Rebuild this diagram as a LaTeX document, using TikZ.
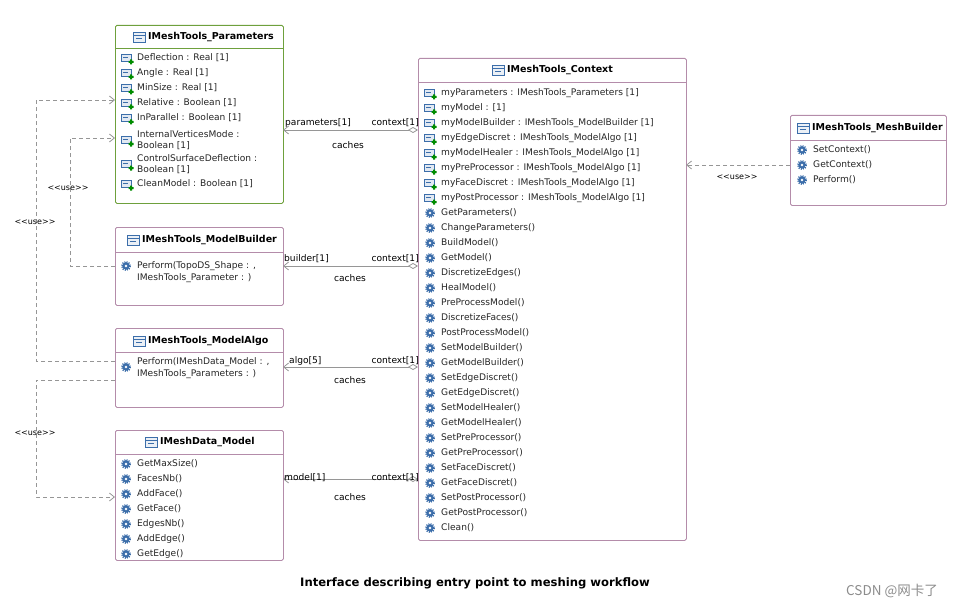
\documentclass[tikz,border=0pt]{standalone}
\usepackage{fontspec}
\setmainfont{DejaVu Sans}
\newfontfamily\cjk{Noto Sans CJK SC}
\usetikzlibrary{arrows.meta}
\definecolor{pur}{RGB}{180,140,170}
\definecolor{grn}{RGB}{110,160,60}
\definecolor{gb}{RGB}{60,110,170}
\definecolor{ln}{RGB}{150,150,150}
\newcommand\mygear[2]{\draw[gb,line width=1.6pt,dash pattern=on 1.1pt off 1.1pt] (#1,#2) circle (4.2);\fill[gb] (#1,#2) circle (3.6);\fill[white] (#1,#2) circle (1.3);}
\newcommand\myattr[2]{\draw[gb,fill=gb!15,line width=0.6pt] (#1-6,#2-4) rectangle (#1+4,#2+3);\draw[gb] (#1-4,#2-1)--(#1+1,#2-1);\fill[green!55!black] (#1+1.5,#2+3) rectangle (#1+6.5,#2+5) (#1+3,#2+1.5) rectangle (#1+5,#2+6.5);}
\newcommand\myhead[2]{\draw[gb,fill=gb!10,line width=0.6pt] (#1-6,#2-5) rectangle (#1+6,#2+5);\draw[gb] (#1-6,#2-2)--(#1+6,#2-2) (#1-3,#2+1)--(#1+3,#2+1);}
\begin{document}
\begin{tikzpicture}[x=1pt,y=-1pt,
  box/.style={draw=pur,line width=0.8pt,rounded corners=1.5pt,fill=white,anchor=north west,inner sep=0pt},
  ttl/.style={font=\bfseries\fontsize{9.5}{11}\selectfont,anchor=west,inner sep=0pt},
  itm/.style={font=\fontsize{9.1}{11.5}\selectfont,anchor=west,inner sep=0pt,align=left,text=black!85},
  lbl/.style={font=\fontsize{9.1}{11}\selectfont,inner sep=0pt},
  use/.style={font=\fontsize{8}{10}\selectfont,inner sep=0pt},
  assoc/.style={draw=ln,line width=0.8pt,{Diamond[open,length=10pt,width=6pt]}-{Straight Barb[length=5pt,width=8pt]}},
  dep/.style={draw=ln,line width=0.8pt,dash pattern=on 4pt off 3pt,-{Straight Barb[length=5pt,width=8pt]}}]
\useasboundingbox (0,0) rectangle (966,607);
% boxes
\node[box,draw=grn,minimum width=168pt,minimum height=178pt] (par) at (115,25) {};
\node[box,minimum width=168pt,minimum height=78pt] (mb) at (115,227) {};
\node[box,minimum width=168pt,minimum height=79pt] (ma) at (115,328) {};
\node[box,minimum width=168pt,minimum height=130pt] (md) at (115,430) {};
\node[box,minimum width=268pt,minimum height=482pt] (ctx) at (418,58) {};
\node[box,minimum width=156pt,minimum height=90pt] (msh) at (790,115) {};
\draw[grn,line width=0.8pt] (115,48)--(283,48);
\draw[pur,line width=0.8pt] (115,252)--(283,252) (115,352)--(283,352) (115,454)--(283,454) (418,82)--(686,82) (790,140)--(946,140);
% titles
\myhead{139}{37}\node[ttl] (tpar) at (148,37) {IMeshTools\_Parameters};
\myhead{133}{240}\node[ttl] (tmb) at (142,240) {IMeshTools\_ModelBuilder};
\myhead{139}{341}\node[ttl] (tma) at (148,341) {IMeshTools\_ModelAlgo};
\myhead{151}{442}\node[ttl] (tmd) at (160,442) {IMeshData\_Model};
\myhead{498}{70}\node[ttl] (tctx) at (507,70) {IMeshTools\_Context};
\myhead{803}{128}\node[ttl] (tmsh) at (812,128) {IMeshTools\_MeshBuilder};
% Parameters attributes
\foreach \y/\t in {58/Deflection : Real [1],73/Angle : Real [1],88/MinSize : Real [1],103/Relative : Boolean [1],118/InParallel : Boolean [1],184/CleanModel : Boolean [1]}
  {\myattr{127}{\y}\node[itm] at (137,\y) {\t};}
\myattr{127}{140}\node[itm] at (137,140) {InternalVerticesMode :\\Boolean [1]};
\myattr{127}{164}\node[itm] at (137,164) {ControlSurfaceDeflection :\\Boolean [1]};
% ModelBuilder / ModelAlgo
\mygear{126}{266}\node[itm] at (137,272) {Perform(TopoDS\_Shape : ,\\IMeshTools\_Parameter : )};
\mygear{126}{367}\node[itm] at (137,368) {Perform(IMeshData\_Model : ,\\IMeshTools\_Parameters : )};
% Model ops
\foreach \y/\t in {464/GetMaxSize(),479/FacesNb(),494/AddFace(),509/GetFace(),524/EdgesNb(),539/AddEdge(),554/GetEdge()}
  {\mygear{126}{\y}\node[itm] at (137,\y) {\t};}
% Context
\foreach \y/\t in {93/myParameters : IMeshTools\_Parameters [1],108/myModel :  [1],123/myModelBuilder : IMeshTools\_ModelBuilder [1],138/myEdgeDiscret : IMeshTools\_ModelAlgo [1],153/myModelHealer : IMeshTools\_ModelAlgo [1],168/myPreProcessor : IMeshTools\_ModelAlgo [1],183/myFaceDiscret : IMeshTools\_ModelAlgo [1],198/myPostProcessor : IMeshTools\_ModelAlgo [1]}
  {\myattr{430}{\y}\node[itm] at (441,\y) {\t};}
\foreach \y/\t in {213/GetParameters(),228/ChangeParameters(),243/BuildModel(),258/GetModel(),273/DiscretizeEdges(),288/HealModel(),303/PreProcessModel(),318/DiscretizeFaces(),333/PostProcessModel(),348/SetModelBuilder(),363/GetModelBuilder(),378/SetEdgeDiscret(),393/GetEdgeDiscret(),408/SetModelHealer(),423/GetModelHealer(),438/SetPreProcessor(),453/GetPreProcessor(),468/SetFaceDiscret(),483/GetFaceDiscret(),498/SetPostProcessor(),513/GetPostProcessor(),528/Clean()}
  {\mygear{430}{\y}\node[itm] at (441,\y) {\t};}
% MeshBuilder
\foreach \y/\t in {150/SetContext(),165/GetContext(),180/Perform()}
  {\mygear{802}{\y}\node[itm] at (813,\y) {\t};}
% associations
\coordinate (c1) at (418,130);\coordinate (p1) at (283,130);
\coordinate (c2) at (418,266);\coordinate (p2) at (283,266);
\coordinate (c3) at (418,367);\coordinate (p3) at (283,367);
\coordinate (c4) at (418,479);\coordinate (p4) at (283,479);
\draw[assoc] (c1)--(p1);\draw[assoc] (c2)--(p2);\draw[assoc] (c3)--(p3);\draw[assoc] (c4)--(p4);
\node[lbl,anchor=west] (r1) at (285,123) {parameters[1]};\node[lbl,anchor=east] (k1) at (419,123) {context[1]};\node[lbl] (s1) at (348,145) {caches};
\node[lbl,anchor=west] (r2) at (284,259) {builder[1]};\node[lbl,anchor=east] (k2) at (419,259) {context[1]};\node[lbl] (s2) at (350,278) {caches};
\node[lbl,anchor=west] (r3) at (289,361) {algo[5]};\node[lbl,anchor=east] (k3) at (419,361) {context[1]};\node[lbl] (s3) at (350,380) {caches};
\node[lbl,anchor=west] (r4) at (284,478) {model[1]};\node[lbl,anchor=east] (k4) at (419,478) {context[1]};\node[lbl] (s4) at (350,497) {caches};
% dependencies
\coordinate (a1) at (115,361);\coordinate (a1b) at (36,361);\coordinate (a1c) at (36,100);\coordinate (a1d) at (115,100);
\draw[dep] (a1)--(a1b)--(a1c)--(a1d);
\coordinate (b1) at (115,266);\coordinate (b1b) at (70,266);\coordinate (b1c) at (70,138);\coordinate (b1d) at (115,138);
\draw[dep] (b1)--(b1b)--(b1c)--(b1d);
\coordinate (d1) at (115,380);\coordinate (d1b) at (36,380);\coordinate (d1c) at (36,497);\coordinate (d1d) at (115,497);
\draw[dep] (d1)--(d1b)--(d1c)--(d1d);
\coordinate (e1) at (790,165);\coordinate (e1b) at (686,165);
\draw[dep] (e1)--(e1b);
\node[use] (u1) at (35,222) {<{}<use>{}>};
\node[use] (u2) at (68,188) {<{}<use>{}>};
\node[use] (u3) at (35,433) {<{}<use>{}>};
\node[use] (u4) at (737,177) {<{}<use>{}>};
% caption
\node[font=\bfseries\fontsize{11.6}{13}\selectfont,inner sep=0pt] (cap) at (475,583) {Interface describing entry point to meshing workflow};
\node[font=\cjk\fontsize{13.5}{15}\selectfont,text=black!45,inner sep=0pt] (wm) at (892,591) {CSDN @网卡了};
\end{tikzpicture}
\end{document}
